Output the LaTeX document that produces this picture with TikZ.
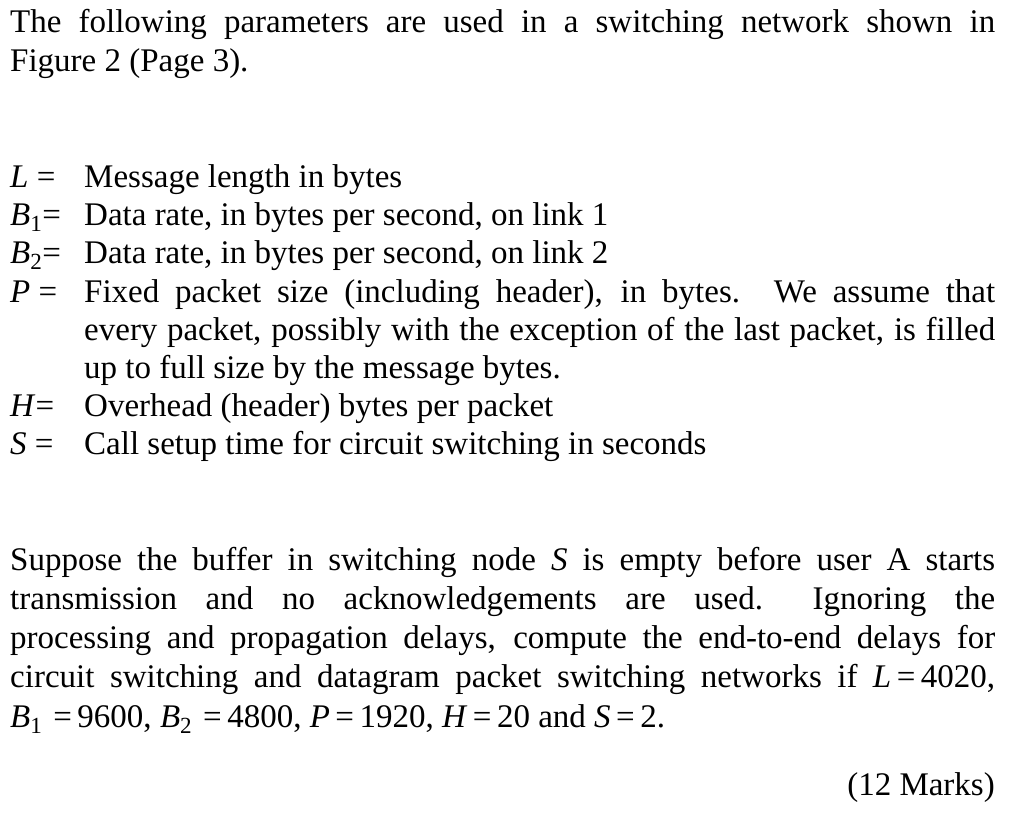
\documentclass[tikz,border=0pt]{standalone}
\usepackage{fontspec}
\setmainfont{Liberation Serif}
\newcommand{\jl}[2]{\hbox to #1{\spaceskip=0.25em plus 1fill\relax #2}}
\begin{document}
\begin{tikzpicture}[x=1pt,y=-1pt,every node/.style={inner sep=0pt,anchor=base west,font=\fontsize{33}{39}\selectfont}]
\useasboundingbox (0,0) rectangle (1024,815);
\node (t1) at (10,32) {\jl{985pt}{The following parameters are used in a switching network shown in}};
\node (t2) at (10,71) {Figure 2 (Page 3).};
\node (lL) at (10,187) {\textit{L} =};
\node (lB1) at (10,225) {\textit{B}\textsubscript{1}=};
\node (lB2) at (10,263) {\textit{B}\textsubscript{2}=};
\node (lP) at (10,302) {\textit{P} =};
\node (lH) at (10,416) {\textit{H}=};
\node (lS) at (10,454) {\textit{S} =};
\node (dL) at (84,187) {Message length in bytes};
\node (dB1) at (84,225) {Data rate, in bytes per second, on link 1};
\node (dB2) at (84,263) {Data rate, in bytes per second, on link 2};
\node (dP1) at (84,302) {\jl{911pt}{Fixed packet size (including header), in bytes. We assume that}};
\node (dP2) at (84,340) {\jl{911pt}{every packet, possibly with the exception of the last packet, is filled}};
\node (dP3) at (84,378) {up to full size by the message bytes.};
\node (dH) at (84,416) {Overhead (header) bytes per packet};
\node (dS) at (84,454) {Call setup time for circuit switching in seconds};
\node (p1) at (10,570) {\jl{985pt}{Suppose the buffer in switching node \textit{S} is empty before user A starts}};
\node (p2) at (10,609) {\jl{985pt}{transmission and no acknowledgements are used.\hskip 1.5em Ignoring the}};
\node (p3) at (10,648) {\jl{985pt}{processing and propagation delays, compute the end-to-end delays for}};
\node (p4) at (10,687) {\jl{985pt}{circuit switching and datagram packet switching networks if \textit{L}\,=\,4020,}};
\node (p5) at (10,727) {\textit{B}\textsubscript{1}\,\,=\,9600, \textit{B}\textsubscript{2}\,\,=\,4800, \textit{P}\,=\,1920, \textit{H}\,=\,20 and \textit{S}\,=\,2.};
\node[anchor=base east] (m) at (995,795) {(12 Marks)};
\end{tikzpicture}
\end{document}
